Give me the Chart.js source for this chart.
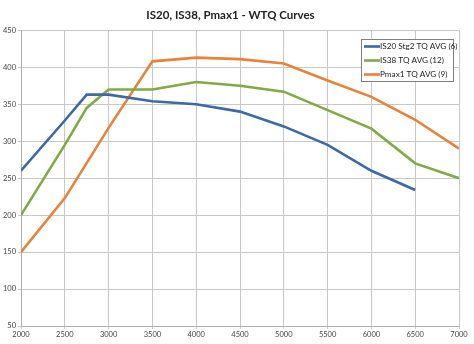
<!DOCTYPE html>
<html>
<head>
<meta charset="utf-8">
<script src="https://cdn.jsdelivr.net/npm/chart.js@4/dist/chart.umd.min.js"></script>
<style>
  html, body { margin: 0; padding: 0; background: #fff; }
  #wrap { width: 474px; height: 344px; position: relative; }
</style>
</head>
<body>
<div id="wrap"><canvas id="c" width="474" height="344"></canvas></div>
<script>
// Wheel torque curves (lb-ft) against engine speed (rpm)
const chartTitle = 'IS20, IS38, Pmax1 - WTQ Curves';
const seriesNames = ['IS20 Stg2 TQ AVG (6)', 'IS38 TQ AVG (12)', 'Pmax1 TQ AVG (9)'];
const seriesColors = ['#3D69A5', '#82A946', '#E8823A'];

const is20Rpm = [2000, 2500, 2750, 3000, 3500, 4000, 4500, 5000, 5500, 6000, 6500];
const is20Tq  = [260, 328, 363, 363, 354, 350, 340, 320, 295, 260, 234];

const is38Rpm = [2000, 2500, 2750, 3000, 3500, 4000, 4500, 5000, 5500, 6000, 6500, 7000];
const is38Tq  = [200, 295, 345, 370, 370, 380, 375, 367, 342, 317, 270, 250];

const pmaxRpm = [2000, 2500, 3000, 3500, 4000, 4500, 5000, 5500, 6000, 6500, 7000];
const pmaxTq  = [150, 223, 318, 408, 413, 411, 405, 382, 360, 329, 290];

const xTicks = [2000, 2500, 3000, 3500, 4000, 4500, 5000, 5500, 6000, 6500, 7000];
const yTicks = [50, 100, 150, 200, 250, 300, 350, 400, 450];

const FONT = 'Lato, "Open Sans", sans-serif';

const pairs = (xs, ys) => xs.map((x, i) => ({ x: x, y: ys[i] }));

const rawSeries = [pairs(is20Rpm, is20Tq), pairs(is38Rpm, is38Tq), pairs(pmaxRpm, pmaxTq)];

const datasets = rawSeries.map((pts, i) => ({
  label: seriesNames[i],
  data: pts,
  borderColor: seriesColors[i],
  backgroundColor: seriesColors[i],
  borderWidth: 2.6,
  pointRadius: 0,
  tension: 0,
  fill: false
}));

// Boxed legend drawn inside the plot area, top right
const innerLegend = {
  id: 'innerLegend',
  afterDatasetsDraw(chart) {
    const ctx = chart.ctx;
    const x0 = 361, y0 = 39, w = 92, h = 42;
    ctx.save();
    ctx.fillStyle = '#fff';
    ctx.fillRect(x0, y0, w, h);
    ctx.strokeStyle = '#7f7f7f';
    ctx.lineWidth = 1;
    ctx.strokeRect(x0 + 0.5, y0 + 0.5, w, h);
    ctx.font = '8.2px ' + FONT;
    ctx.textBaseline = 'middle';
    chart.data.datasets.forEach((ds, i) => {
      const cy = y0 + 7.5 + i * 14;
      ctx.strokeStyle = ds.borderColor;
      ctx.lineWidth = 2.6;
      ctx.beginPath();
      ctx.moveTo(x0 + 3, cy);
      ctx.lineTo(x0 + 19, cy);
      ctx.stroke();
      ctx.fillStyle = '#222';
      ctx.fillText(ds.label, x0 + 19, cy);
    });
    ctx.restore();
  }
};

new Chart(document.getElementById('c'), {
  type: 'line',
  data: { datasets: datasets },
  plugins: [innerLegend],
  options: {
    responsive: false,
    animation: false,
    layout: { padding: { left: 2, right: 15, top: 0, bottom: 2 } },
    plugins: {
      legend: { display: false },
      tooltip: { enabled: false },
      title: {
        display: true,
        text: chartTitle,
        color: '#222',
        font: { family: FONT, size: 11.5, weight: 'bold' },
        padding: { top: 8, bottom: 8.5 }
      }
    },
    scales: {
      x: {
        type: 'linear',
        min: 2000, max: 7000,
        afterBuildTicks(scale) { scale.ticks = xTicks.map(v => ({ value: v })); },
        afterFit(scale) { scale.height = 16; },
        grid: { color: '#c8c8c8', lineWidth: 1, tickLength: 3, drawTicks: true },
        border: { color: '#b0b0b0' },
        ticks: {
          color: '#444',
          font: { family: FONT, size: 7.5 },
          maxRotation: 0,
          padding: 1,
          callback: v => String(v)
        }
      },
      y: {
        min: 50, max: 450,
        afterBuildTicks(scale) { scale.ticks = yTicks.map(v => ({ value: v })); },
        afterFit(scale) { scale.width = 19; },
        grid: { color: '#c8c8c8', lineWidth: 1, tickLength: 3 },
        border: { color: '#b0b0b0' },
        ticks: {
          color: '#444',
          font: { family: FONT, size: 7.5 },
          padding: 2,
          callback: v => String(v)
        }
      }
    }
  }
});
</script>
</body>
</html>
